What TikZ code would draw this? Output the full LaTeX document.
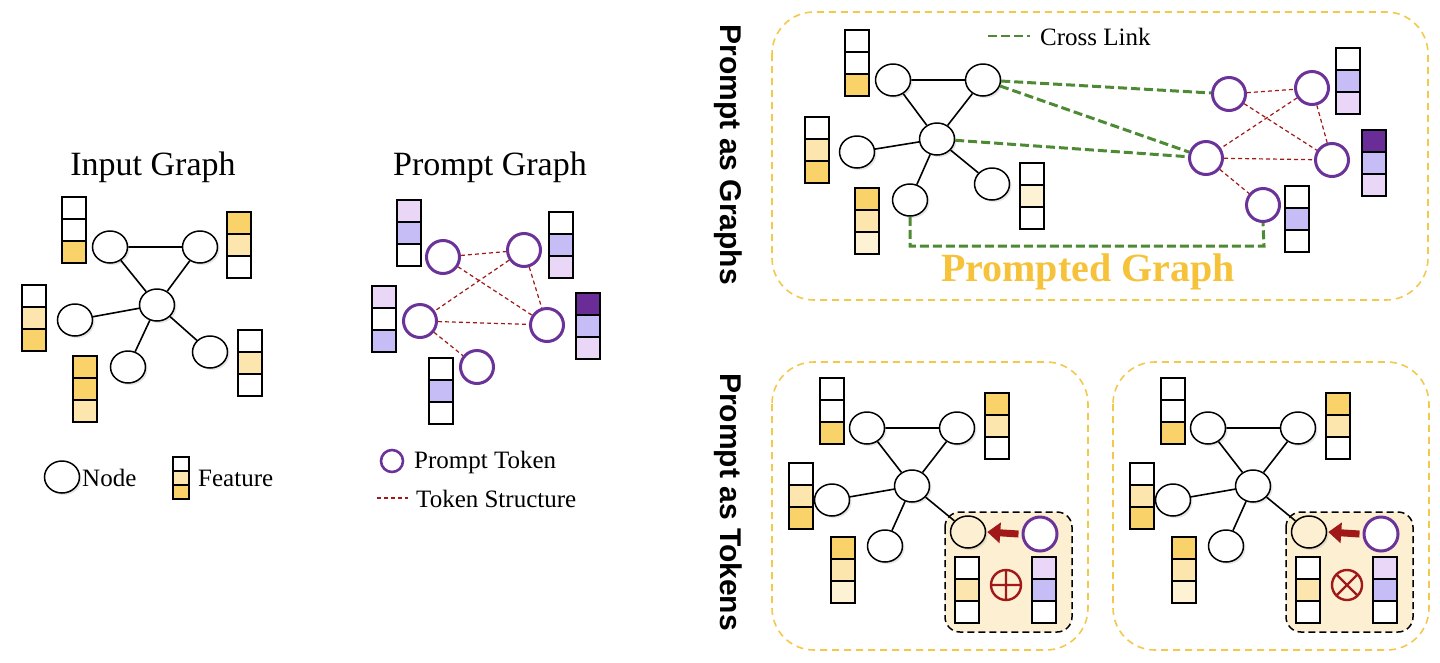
\documentclass[tikz,border=0pt]{standalone}
\usepackage{fontspec}
\setmainfont{Liberation Serif}
\newfontfamily\sansb{Liberation Sans}
\usetikzlibrary{shadows,shapes.geometric,arrows.meta}
\definecolor{Ya}{HTML}{F9D36A}
\definecolor{Yb}{HTML}{FCE6AE}
\definecolor{Yc}{HTML}{FEF2D4}
\definecolor{Pa}{HTML}{EAD6F7}
\definecolor{Pb}{HTML}{C6BDF7}
\definecolor{Pc}{HTML}{6A2C96}
\definecolor{purp}{HTML}{6B3399}
\definecolor{dred}{HTML}{A01818}
\definecolor{grn}{HTML}{4E8A34}
\definecolor{gold}{HTML}{F5C23A}
\definecolor{boxy}{HTML}{F2C94C}
\definecolor{inner}{HTML}{FCEFD2}
\tikzset{
 fvs/.style={draw=black,line width=1.3pt},
 gn/.style={ellipse,draw=black,line width=1.5pt,fill=white,minimum width=35pt,minimum height=32pt,inner sep=0pt,drop shadow={opacity=0.2,shadow xshift=2pt,shadow yshift=-2pt}},
 pn/.style={circle,draw=purp,line width=3pt,fill=white,minimum size=33pt,inner sep=0pt},
 ge/.style={line width=1.6pt},
 te/.style={dred,line width=1.2pt,dash pattern=on 4pt off 3pt},
 ce/.style={grn,line width=3pt,dash pattern=on 9pt off 4pt},
 obox/.style={draw=boxy,line width=1.6pt,dash pattern=on 7pt off 5pt,rounded corners=42pt},
 ibox/.style={draw=black,fill=inner,line width=1.5pt,dash pattern=on 7pt off 4pt,rounded corners=15pt},
 ttl/.style={font=\fontsize{34}{38}\selectfont},
 lg/.style={font=\fontsize{25}{29}\selectfont},
 vt/.style={font=\sansb\bfseries\fontsize{30}{34}\selectfont,rotate=-90},
}
\newcommand\fvec[7]{\draw[fvs,fill=#5] (#1,#2) rectangle ++(#3,#4); \draw[fvs,fill=#6] (#1,#2+#4) rectangle ++(#3,#4); \draw[fvs,fill=#7] (#1,#2+2*#4) rectangle ++(#3,#4);}
\newcommand\tokbox[3]{%
\begin{scope}[xshift=#2]
\draw[obox] (772,362) rectangle (1088,650);
\node[gn] (#1a) at (867,428) {};
\node[gn] (#1b) at (957,428) {};
\node[gn] (#1c) at (912,486) {};
\node[gn] (#1d) at (832,500) {};
\node[gn] (#1e) at (885,546) {};
\draw[ibox] (945,512) rectangle (1072,632);
\node[gn,fill=inner] (#1f) at (968,532) {};
\node[pn,minimum size=34pt] (#1g) at (1040,534) {};
\draw[ge] (#1a)--(#1b) (#1a)--(#1c) (#1b)--(#1c) (#1d)--(#1c) (#1e)--(#1c) (#1f)--(#1c);
\draw[dred,line width=7pt,-{Triangle[length=13pt,width=20pt]}] ([xshift=-3pt]#1g.west) -- ([xshift=1pt]#1f.east);
\fvec{955}{557}{24}{22}{white}{Yb}{white}
\fvec{1032}{557}{24}{22}{Pa}{Pb}{white}
\fvec{820}{378}{24}{22}{white}{white}{Ya}
\fvec{985}{393}{24}{22}{Ya}{Yb}{white}
\fvec{789}{463}{24}{22}{white}{Yb}{Ya}
\fvec{831}{537}{24}{22}{Ya}{Yb}{Yc}
#3
\end{scope}}
\begin{document}
\begin{tikzpicture}[x=1pt,y=-1pt]
\useasboundingbox (0,0) rectangle (1440,662);
% Input graph
\node[ttl] (t1) at (153,167) {Input Graph};
\node[gn] (a1) at (110,247) {};
\node[gn] (a2) at (200,247) {};
\node[gn] (a3) at (157,305) {};
\node[gn] (a4) at (75,320) {};
\node[gn] (a5) at (128,367) {};
\node[gn] (a6) at (210,352) {};
\draw[ge] (a1)--(a2) (a1)--(a3) (a2)--(a3) (a4)--(a3) (a5)--(a3) (a6)--(a3);
\fvec{62}{197}{24}{22}{white}{white}{Ya}
\fvec{227}{212}{24}{22}{Ya}{Yb}{white}
\fvec{22}{285}{24}{22}{white}{Yb}{Ya}
\fvec{73}{356}{24}{22}{Ya}{Ya}{Yb}
\fvec{238}{330}{24}{22}{white}{Yb}{white}
\node[gn] (ln) at (62,477) {};
\node[lg,anchor=west,inner sep=0pt] (lnt) at (82,478) {Node};
\fvec{173}{457}{16}{14}{white}{Yb}{Ya}
\node[lg,anchor=west,inner sep=0pt] (lft) at (198,478) {Feature};
% Prompt graph
\node[ttl] (t2) at (490,167) {Prompt Graph};
\node[pn] (p1) at (443,257) {};
\node[pn] (p2) at (524,250) {};
\node[pn] (p3) at (420,321) {};
\node[pn] (p4) at (547,325) {};
\node[pn] (p5) at (477,367) {};
\draw[te] (p1)--(p2) (p1)--(p4) (p2)--(p3) (p2)--(p4) (p3)--(p4) (p3)--(p5);
\fvec{397}{200}{24}{22}{Pa}{Pb}{white}
\fvec{549}{212}{24}{22}{white}{Pb}{Pa}
\fvec{372}{286}{24}{22}{Pa}{white}{Pb}
\fvec{576}{293}{24}{22}{Pc}{Pb}{Pa}
\fvec{429}{358}{24}{22}{white}{Pb}{white}
\node[pn,minimum size=22pt,line width=2.6pt] (lp) at (392,461) {};
\node[lg,anchor=west,inner sep=0pt] (lpt) at (414,462) {Prompt Token};
\coordinate (ls1) at (377,498); \coordinate (ls2) at (408,498);
\draw[te] (ls1)--(ls2);
\node[lg,anchor=west,inner sep=0pt] (lst) at (416,499) {Token Structure};
% vertical labels
\node[vt] (v1) at (728,155) {Prompt as Graphs};
\node[vt] (v2) at (728,502) {Prompt as Tokens};
% Prompted graph box
\draw[obox] (772,12) rectangle (1428,300);
\node[gn] (b1) at (893,80) {};
\node[gn] (b2) at (983,80) {};
\node[gn] (b3) at (937,139) {};
\node[gn] (b4) at (857,152) {};
\node[gn] (b5) at (910,200) {};
\node[gn] (b6) at (992,184) {};
\draw[ge] (b1)--(b2) (b1)--(b3) (b2)--(b3) (b4)--(b3) (b5)--(b3) (b6)--(b3);
\fvec{845}{30}{24}{22}{white}{white}{Ya}
\fvec{805}{117}{24}{22}{white}{Yb}{Ya}
\fvec{855}{188}{24}{22}{Ya}{Yb}{Yc}
\fvec{1020}{163}{24}{22}{white}{Yc}{white}
\node[pn] (q1) at (1229,94) {};
\node[pn] (q2) at (1312,88) {};
\node[pn] (q3) at (1206,158) {};
\node[pn] (q4) at (1332,160) {};
\node[pn] (q5) at (1263,205) {};
\draw[te] (q1)--(q2) (q1)--(q4) (q2)--(q3) (q2)--(q4) (q3)--(q4) (q3)--(q5);
\fvec{1336}{48}{24}{22}{white}{Pb}{Pa}
\fvec{1362}{130}{24}{22}{Pc}{Pb}{Pa}
\fvec{1285}{186}{24}{22}{white}{Pb}{white}
\draw[ce] (b2)--(q1) (b2)--(q3) (b3)--(q3);
\draw[ce] (b5.south) |- (1264,246) -- (q5.south);
\coordinate (cl1) at (988,36); \coordinate (cl2) at (1030,36);
\draw[ce,line width=2.5pt] (cl1)--(cl2);
\node[lg,anchor=west,inner sep=0pt] (clt) at (1040,37) {Cross Link};
\node[font=\bfseries\fontsize{40}{44}\selectfont,text=gold] (pgt) at (1088,272) {Prompted Graph};
% token boxes
\tokbox{r}{0}{\draw[dred,line width=2.4pt] (1006,585) circle (15) (991,585)--(1021,585) (1006,570)--(1006,600);}
\tokbox{s}{341}{\draw[dred,line width=2.4pt] (1006,585) circle (15) (995.4,574.4)--(1016.6,595.6) (995.4,595.6)--(1016.6,574.4);}
\end{tikzpicture}
\end{document}
